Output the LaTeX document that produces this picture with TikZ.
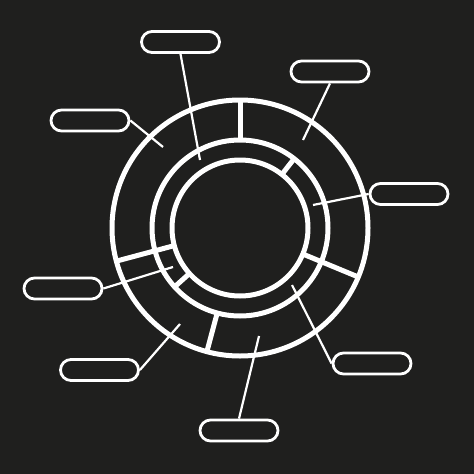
\documentclass[tikz,border=0pt]{standalone}
\usetikzlibrary{shapes.misc}
\definecolor{bg}{RGB}{31,31,30}
\begin{document}
\begin{tikzpicture}[x=1pt,y=-1pt,
  ring/.style={draw=white,line width=5pt},
  bar/.style={draw=white,line width=5pt},
  pill/.style={draw=white,line width=2.8pt,rounded rectangle,minimum width=78pt,minimum height=21pt,inner sep=0pt},
  leader/.style={draw=white,line width=2.2pt}]
\fill[bg] (0,0) rectangle (474,474);
\useasboundingbox (0,0) rectangle (474,474);
\coordinate (C) at (240,228);
% rings
\draw[ring] (C) circle[radius=128pt];
\draw[ring] (C) circle[radius=88pt];
\draw[ring] (C) circle[radius=68pt];
% radial bars
\begin{scope}[shift={(C)}]
  \draw[bar] (90:88pt) -- (90:128pt);
  \draw[bar] (255:88pt) -- (255:128pt);
  \draw[bar] (195:68pt) -- (195:128pt);
  \draw[bar] (-22.5:68pt) -- (-22.5:128pt);
  \draw[bar] (52:68pt) -- (52:88pt);
  \draw[bar] (222:68pt) -- (222:88pt);
\end{scope}
% label boxes
\node[pill] (p1) at (180.5,42) {};
\node[pill] (p2) at (330,71.5) {};
\node[pill] (p3) at (409,194) {};
\node[pill] (p4) at (372,363.5) {};
\node[pill] (p5) at (239,430.5) {};
\node[pill] (p6) at (99.5,370) {};
\node[pill] (p7) at (63,288.5) {};
\node[pill] (p8) at (90,120.5) {};
% leader ends
\coordinate (e1) at (200,160);
\coordinate (e2) at (303,140);
\coordinate (e3) at (313,205);
\coordinate (e4) at (292,285);
\coordinate (e5) at (259,336);
\coordinate (e6) at (180,324);
\coordinate (e7) at (173,267);
\coordinate (e8) at (163,147);
% leaders
\draw[leader] (p1.south) -- (e1);
\draw[leader] (p2.south) -- (e2);
\draw[leader] (p3.west) -- (e3);
\draw[leader] (p4.west) -- (e4);
\draw[leader] (p5.north) -- (e5);
\draw[leader] (p6.east) -- (e6);
\draw[leader] (p7.east) -- (e7);
\draw[leader] (p8.east) -- (e8);
\end{tikzpicture}
\end{document}
